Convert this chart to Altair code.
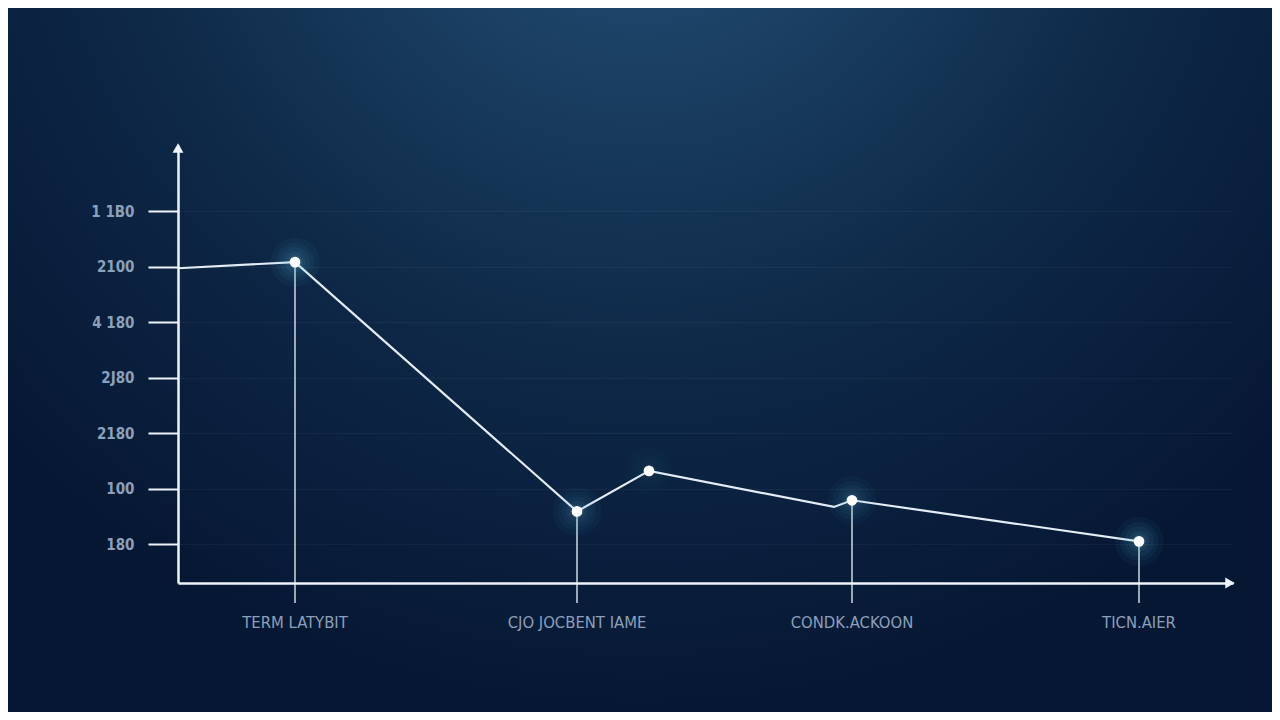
import altair as alt
import pandas as pd

# ---- data ----
line_x = [0.0, 1.17, 3.99, 4.71, 6.56, 6.74, 9.61]
line_y = [5.97, 6.08, 1.59, 2.32, 1.67, 1.79, 1.05]
point_x = [1.17, 3.99, 4.71, 6.74, 9.61]
point_y = [6.08, 1.59, 2.32, 1.79, 1.05]
glow = [1.0, 0.8, 0.25, 0.7, 1.0]
cat_x = [1.17, 3.99, 6.74, 9.61]
cat_y = [6.08, 1.59, 1.79, 1.05]
cat_labels = ["TERM LATYBIT", "CJO JOCBENT IAME", "CONDK.ACKOON", "TICN.AIER"]
ytick_values = [1, 2, 3, 4, 5, 6, 7]
ytick_labels = ["180", "100", "2180", "2J80", "4 180", "2100", "1 1B0"]

W, H = 1055, 438
X_DOM = [0, 10.55]
Y_DOM = [0.3, 8.19]

line_df = pd.DataFrame({"x": line_x, "y": line_y})
pt_df = pd.DataFrame({"x": point_x, "y": point_y, "g": glow})
cat_df = pd.DataFrame({"x": cat_x, "y": cat_y, "label": cat_labels})

xs = alt.Scale(domain=X_DOM, nice=False, zero=False)
ys = alt.Scale(domain=Y_DOM, nice=False, zero=False)

label_expr = "[" + ",".join("'" + s + "'" for s in ytick_labels) + "][datum.value - 1]"
AX = "#eef4fa"
LBL = "#8ba0ba"

bg = alt.Chart(pd.DataFrame({"a": [0]})).mark_rect(
    fill=alt.Gradient(
        gradient="radial",
        x1=0.5, y1=0.08, r1=0.0,
        x2=0.5, y2=0.08, r2=0.7,
        stops=[
            alt.GradientStop(color="#285880", offset=0),
            alt.GradientStop(color="#1b4164", offset=0.25),
            alt.GradientStop(color="#0e2847", offset=0.6),
            alt.GradientStop(color="#061733", offset=1),
        ],
    )
).encode(
    x=alt.value(-170), x2=alt.value(W + 39),
    y=alt.value(-137), y2=alt.value(H + 129),
)

axes = alt.Chart(line_df).mark_point(opacity=0).encode(
    x=alt.X("x:Q", scale=xs, axis=alt.Axis(
        title=None, labels=False, ticks=False, grid=False, zindex=1,
        domainColor=AX, domainWidth=2.5)),
    y=alt.Y("y:Q", scale=ys, axis=alt.Axis(
        title=None, values=ytick_values, labelExpr=label_expr, zindex=1,
        tickSize=30, tickColor=AX, tickWidth=2,
        domainColor=AX, domainWidth=2.5,
        labelColor=LBL, labelFontSize=15, labelFont="DejaVu Sans Condensed",
        labelFontWeight="bold",
        labelPadding=14, grid=True, gridColor="#ffffff", gridOpacity=0.04,
        gridWidth=1)),
)

drops = alt.Chart(cat_df).mark_rule(color="#dbe6f0", strokeWidth=1.4).encode(
    x=alt.X("x:Q", scale=xs), y=alt.Y("y:Q", scale=ys), y2=alt.value(H + 20)
)

line = alt.Chart(line_df).mark_line(color="#e4edf5", strokeWidth=2.2).encode(
    x=alt.X("x:Q", scale=xs), y=alt.Y("y:Q", scale=ys)
)

def glow_layer(size, top, color):
    return alt.Chart(pt_df).mark_circle(color=color).encode(
        x=alt.X("x:Q", scale=xs), y=alt.Y("y:Q", scale=ys),
        size=alt.value(size),
        opacity=alt.Opacity("g:Q", scale=alt.Scale(domain=[0, 1], range=[0, top]), legend=None),
    )

glows = [
    glow_layer(2400, 0.06, "#3fa6d0"),
    glow_layer(1500, 0.08, "#4fb3d9"),
    glow_layer(900, 0.12, "#6cc6e8"),
    glow_layer(450, 0.18, "#8fdaf2"),
    glow_layer(220, 0.28, "#b8ecfa"),
]

points = alt.Chart(pt_df).mark_circle(color="#ffffff", opacity=1, size=115).encode(
    x=alt.X("x:Q", scale=xs), y=alt.Y("y:Q", scale=ys)
)

labels = alt.Chart(cat_df).mark_text(
    color=LBL, fontSize=16.5, font="DejaVu Sans Condensed", baseline="middle"
).encode(
    x=alt.X("x:Q", scale=xs), y=alt.value(H + 40), text="label:N"
)

arrow_up = alt.Chart(pd.DataFrame({"a": [0]})).mark_point(
    shape="triangle-up", filled=True, color=AX, size=120, opacity=1
).encode(x=alt.value(0), y=alt.value(3))

arrow_right = alt.Chart(pd.DataFrame({"a": [0]})).mark_point(
    shape="triangle-right", filled=True, color=AX, size=120, opacity=1
).encode(x=alt.value(W - 3), y=alt.value(H))

chart = alt.layer(
    bg, axes, drops, line, *glows, points, labels, arrow_up, arrow_right
).properties(
    width=W, height=H,
    padding={"left": 170, "top": 137, "right": 39, "bottom": 129},
    autosize=alt.AutoSizeParams(type="none"),
    background="#0a1d38",
).configure_view(stroke=None)

chart.save("out.html", embed_options={"renderer": "svg", "actions": False})
